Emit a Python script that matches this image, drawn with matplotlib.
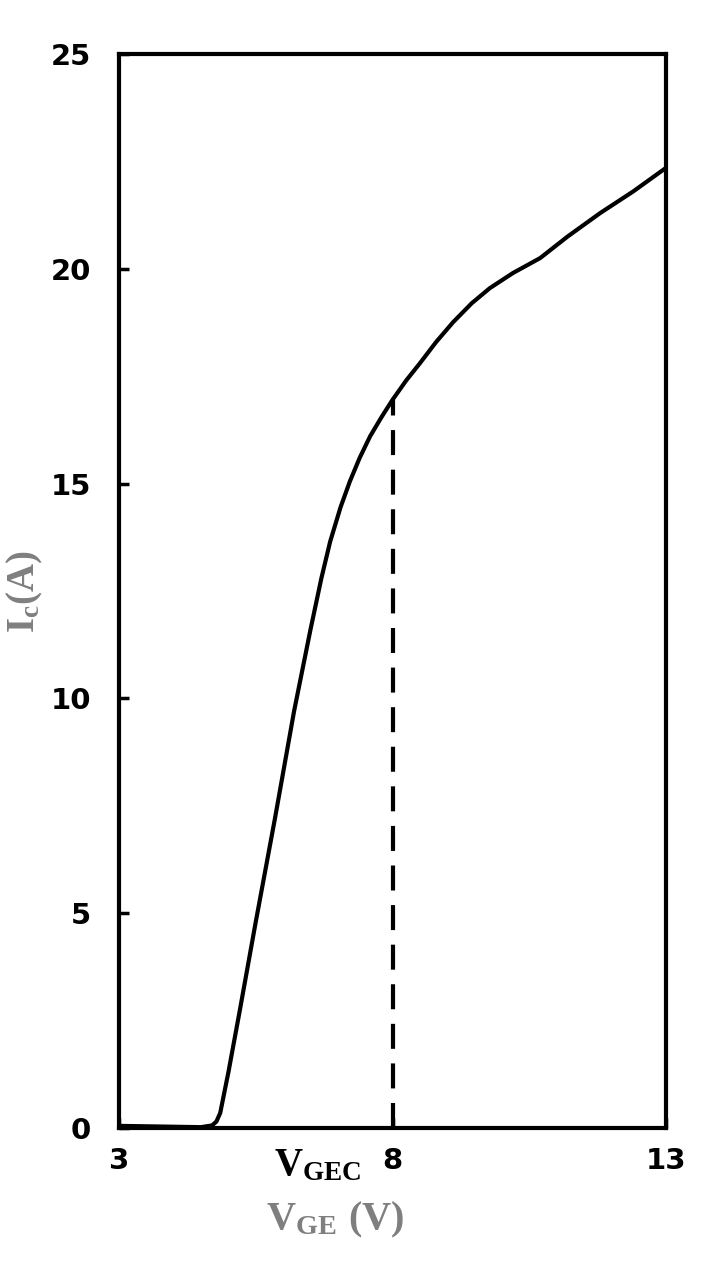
import matplotlib

matplotlib.use('Agg')
import matplotlib.pyplot as plt
from matplotlib.transforms import blended_transform_factory

# Transfer characteristic
vge = [3.0, 4.0, 4.5, 4.7, 4.78, 4.85, 5.0, 5.21, 5.5, 5.85, 6.2, 6.5,
       6.7, 6.86, 7.05, 7.22, 7.4, 7.59, 7.8, 8.0, 8.25, 8.5, 8.8, 9.11,
       9.45, 9.78, 10.2, 10.7, 11.2, 11.8, 12.4, 13.0]
ic = [0.05, 0.03, 0.02, 0.06, 0.15, 0.35, 1.3, 2.75, 4.8, 7.2, 9.7, 11.6,
      12.8, 13.65, 14.45, 15.05, 15.6, 16.1, 16.55, 16.95, 17.4, 17.8, 18.3,
      18.76, 19.2, 19.55, 19.9, 20.25, 20.75, 21.3, 21.8, 22.35]

vgec = 8.0
ic_vgec = 16.95

x_ticks = [3, 8, 13]
y_ticks = [0, 5, 10, 15, 20, 25]

plt.rcParams['mathtext.fontset'] = 'custom'
plt.rcParams['mathtext.rm'] = 'Liberation Serif:bold'
plt.rcParams['mathtext.bf'] = 'Liberation Serif:bold'
plt.rcParams['mathtext.it'] = 'Liberation Serif:bold'

fig = plt.figure(figsize=(7.24, 12.70), dpi=100)
ax = fig.add_axes([0.1644, 0.1118, 0.9199 - 0.1644, 0.9575 - 0.1118])

ax.plot(vge, ic, color='black', linewidth=3.0, solid_joinstyle='round',
        solid_capstyle='round')
ax.plot([vgec, vgec], [0, ic_vgec], color='black', linewidth=3.0,
        linestyle=(0, (6, 3.5)))

ax.set_xlim(3, 13)
ax.set_ylim(0, 25)
ax.set_xticks(x_ticks)
ax.set_yticks(y_ticks)
ax.tick_params(direction='in', length=7, width=2.5, labelsize=21, pad=14)
for lab in ax.get_xticklabels() + ax.get_yticklabels():
    lab.set_fontweight('bold')
    lab.set_family('DejaVu Sans')
ax.tick_params(axis='y', pad=20)
for s in ax.spines.values():
    s.set_linewidth(3.0)

ax.set_ylabel(r'$\mathrm{I_c(A)}$', color='#7f7f7f', fontsize=28)
ax.yaxis.set_label_coords(-0.135, 0.499)
ax.set_xlabel(r'$\mathrm{V_{GE}\ (V)}$', color='#7f7f7f', fontsize=29)
ax.xaxis.set_label_coords(0.395, -0.067)

trans = blended_transform_factory(ax.transData, ax.transAxes)
ax.text(6.64, -0.016, r'$\mathrm{V_{GEC}}$', transform=trans, ha='center',
        va='top', fontsize=28, color='black')

fig.savefig('out.png', dpi=100)
